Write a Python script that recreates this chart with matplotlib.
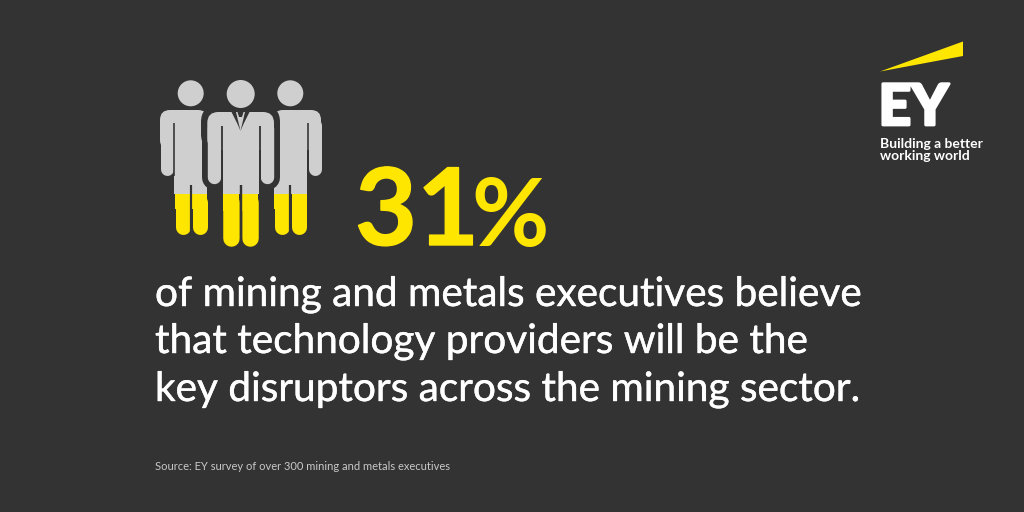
import matplotlib
matplotlib.use("Agg")
import matplotlib.pyplot as plt
import matplotlib.patheffects as pe
from matplotlib.patches import Circle, Polygon, Rectangle, FancyBboxPatch

BG = '#333333'
GREY = '#cfcfcf'
YELLOW = '#ffe600'
WHITE = '#ffffff'

percent_value = 31
body_lines = [
	"of mining and metals executives believe",
	"that technology providers will be the",
	"key disruptors across the mining sector.",
]
source_text = "Source: EY survey of over 300 mining and metals executives"
logo_text = "EY"
tagline_lines = ["Building a better", "working world"]

plt.rcParams['font.family'] = ['Lato', 'DejaVu Sans']

fig = plt.figure(figsize=(10.24, 5.12), dpi=100, facecolor=BG)
ax = fig.add_axes([0, 0, 1, 1])
ax.set_xlim(0, 1024)
ax.set_ylim(512, 0)
ax.axis("off")

PX = 0.72  # pixels to points


def thick(xs, ys, width, color, cap='round', z=2):
	ax.plot(xs, ys, color=color, linewidth=width * PX, solid_capstyle=cap, zorder=z)


def rounded(x0, y0, x1, y1, radius, color, z):
	ax.add_patch(FancyBboxPatch((x0 + radius, y0 + radius), x1 - x0 - 2 * radius, y1 - y0 - 2 * radius,
								boxstyle=f"round,pad={radius},rounding_size={radius}",
								color=color, lw=0, zorder=z))


def leg(xc, width, fill_top, bottom, z):
	thick([xc, xc], [fill_top + width / 2, bottom - width / 2], width, YELLOW, z=z)
	ax.add_patch(Rectangle((xc - width / 2, fill_top), width, width, color=YELLOW, lw=0, zorder=z))


def side_person(head_x, x0, x1, torso_x0, torso_x1, arm_x, gap_x, leg_a, leg_b):
	ax.add_patch(Circle((head_x, 93.3), 13, color=GREY, lw=0, zorder=2))
	rounded(x0, 110, x1, 150, 10, GREY, 2)
	ax.add_patch(Rectangle((torso_x0, 130), torso_x1 - torso_x0, 64, color=GREY, lw=0, zorder=2))
	thick([arm_x, arm_x], [125, 168.7], 13, GREY, z=2)
	# slit between the arm and the body
	thick([gap_x, gap_x], [123, 176], 1.6, BG, cap='butt', z=3)
	leg(leg_a, 15, 194, 234, 2)
	leg(leg_b, 15, 194, 234, 2)
	thick([(leg_a + leg_b) / 2] * 2, [185, 236], 2.2, BG, cap='butt', z=3)


def center_person():
	# dark halo around the front figure
	rounded(201, 106, 280, 150, 16, BG, 4)
	thick([214, 214], [125, 176.5], 25, BG, z=4)
	thick([267.4, 267.4], [125, 176.5], 25, BG, z=4)
	ax.add_patch(Rectangle((214, 130), 54, 59, color=BG, lw=0, zorder=4))

	ax.add_patch(Circle((240.7, 94), 14, color=GREY, lw=0, zorder=5))
	rounded(207.3, 112, 274, 150, 11, GREY, 5)
	thick([214, 214], [128, 176.5], 13.4, GREY, z=5)
	thick([267.4, 267.4], [128, 176.5], 13.4, GREY, z=5)
	ax.add_patch(Rectangle((222.7, 130), 36, 64, color=GREY, lw=0, zorder=5))
	thick([221.5, 221.5], [126, 185], 1.8, BG, cap='butt', z=6)
	thick([259.8, 259.8], [126, 185], 1.8, BG, cap='butt', z=6)
	leg(231, 16.5, 194, 246, 5)
	leg(250.2, 16.5, 194, 246, 5)
	thick([240.6, 240.6], [185, 248], 2.4, BG, cap='butt', z=6)
	# collar and tie
	ax.add_patch(Polygon([[231.5, 112], [236, 112], [240.5, 131], [237.5, 124]], color=BG, lw=0, zorder=6))
	ax.add_patch(Polygon([[249.5, 112], [245, 112], [240.5, 131], [243.5, 124]], color=BG, lw=0, zorder=6))
	ax.add_patch(Polygon([[237.5, 112], [243.5, 112], [242, 117], [239, 117]], color=BG, lw=0, zorder=6))


side_person(190.7, 160, 208, 174, 207.3, 166.5, 173.5, 182.5, 199.8)
side_person(290.3, 273, 321, 274, 306.7, 314.5, 307.5, 281.5, 299.2)
center_person()

# headline figure, the sign is much narrower than the digits
ax.text(355, 245, f"{percent_value}", color=YELLOW, fontsize=77, fontweight='bold', va='baseline', ha='left',
		path_effects=[pe.withStroke(linewidth=1, foreground=YELLOW)])
ax.text(471, 246, "%", color=YELLOW, fontsize=68, fontweight='bold', va='baseline', ha='left',
		family=['Liberation Sans Narrow', 'Lato'])

for line, y in zip(body_lines, [306, 353, 401]):
	ax.text(155, y, line, color=WHITE, fontsize=29.2, va='baseline', ha='left',
			path_effects=[pe.withStroke(linewidth=0.3, foreground=WHITE)])

ax.text(155, 470, source_text, color='#c8c8c8', fontsize=8.05, va='baseline', ha='left')

# logo
ax.add_patch(Polygon([[880, 71.5], [963, 41.5], [963, 56]], color=YELLOW, lw=0))
ax.text(878.5, 125, logo_text, color=WHITE, fontsize=41, fontweight='black', va='baseline', ha='left',
		path_effects=[pe.withStroke(linewidth=2, foreground=WHITE)])
for line, y in zip(tagline_lines, [148, 160]):
	ax.text(880.5, y, line, color=WHITE, fontsize=10, fontweight='bold', va='baseline', ha='left')

fig.savefig("out.png", dpi=100, facecolor=BG)
